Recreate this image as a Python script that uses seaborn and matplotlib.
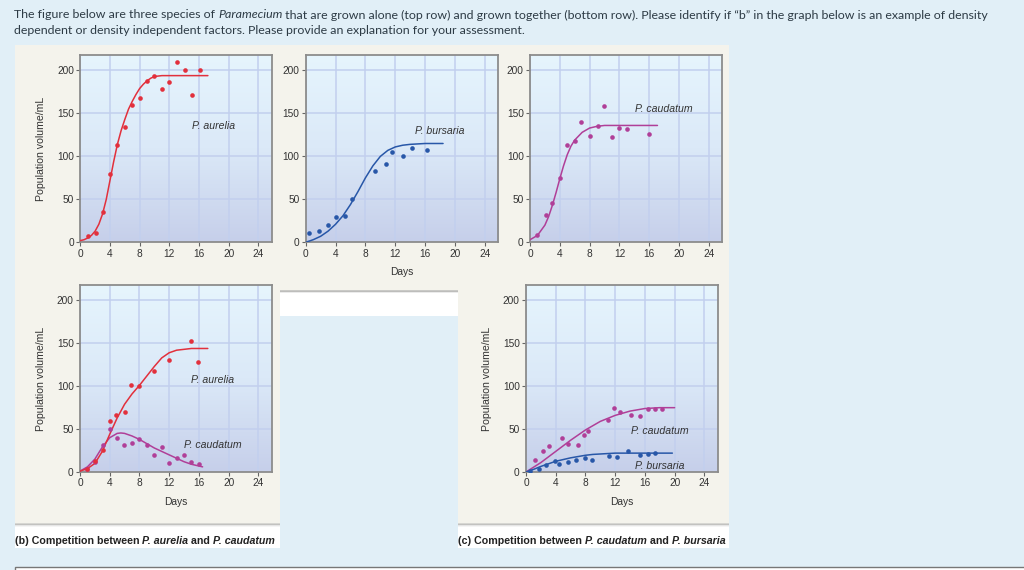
import numpy as np
import pandas as pd
import matplotlib
matplotlib.use("Agg")
import matplotlib.pyplot as plt
from matplotlib.patches import Rectangle
from matplotlib.colors import LinearSegmentedColormap
from matplotlib.font_manager import FontProperties
import seaborn as sns

sns.set_theme(style="white")
plt.rcParams['font.family'] = ['Liberation Sans', 'DejaVu Sans']

# ---- data ----
# (a) grown alone
aur_days = [1, 2.1, 3, 4, 5, 6, 7, 8, 9, 10, 11, 12, 13, 14.1, 15.1, 16.1]
aur_vals = [7, 11, 35, 79, 113, 134, 160, 168, 188, 194, 179, 186, 210, 200, 171, 200]
aur_fit_d = [0, 0.5, 1, 1.5, 2, 2.5, 3, 3.5, 4, 4.5, 5, 5.5, 6, 6.5, 7, 7.5, 8, 8.5, 9, 9.5, 10, 11, 17.2]
aur_fit_v = [2, 3, 5, 8, 13, 21, 33, 50, 72, 94, 114, 130, 143, 155, 164, 172, 179, 184, 188, 191, 193, 194, 194]

bur_days = [0.5, 1.8, 3, 4, 5.3, 6.2, 9.3, 10.7, 11.5, 13, 14.2, 16.2]
bur_vals = [11, 13, 20, 29, 31, 50, 83, 91, 105, 100, 110, 107]
bur_fit_d = [0, 1, 2, 3, 4, 5, 6, 7, 8, 9, 10, 11, 12, 13, 14, 16, 18.4]
bur_fit_v = [0, 3, 7, 13, 21, 31, 44, 59, 75, 89, 100, 107, 111, 113, 114, 115, 115]

cau_days = [1, 2.1, 3, 4, 5, 6, 6.9, 8, 9.1, 9.9, 11, 12, 13, 16]
cau_vals = [8.5, 32, 46, 75, 113, 118, 140, 124, 135, 159, 122, 133, 132, 126]
cau_fit_d = [0, 1, 2, 2.5, 3, 3.5, 4, 4.5, 5, 5.5, 6, 7, 8, 9, 10, 17.1]
cau_fit_v = [3, 8, 20, 30, 43, 58, 74, 89, 102, 112, 119, 128, 133, 135, 136, 136]

# (b) P. aurelia with P. caudatum
b_aur_days = [0.9, 2, 3.1, 4, 4.9, 6, 6.9, 8, 10, 12, 15, 15.9]
b_aur_vals = [3, 13, 26, 60, 67, 70, 102, 100, 118, 130, 153, 128]
b_aur_fit_d = [0, 1, 2, 3, 4, 5, 6, 7, 8, 9, 10, 11, 12, 13, 14, 15, 17.2]
b_aur_fit_v = [1, 4, 10, 24, 44, 63, 79, 91, 101, 112, 123, 133, 139, 142, 143, 144, 144]

b_cau_days = [1, 2, 3.1, 4, 5, 5.9, 7, 7.9, 9, 10, 11, 12, 13, 14, 15, 16]
b_cau_vals = [4, 12, 32, 50, 40, 31, 34, 38, 31, 20, 29, 11, 16, 20, 12, 9]
b_cau_fit_d = [0, 1, 2, 3, 4, 5, 5.5, 6, 7, 8, 9, 10, 11, 12, 13, 14, 15, 16.5]
b_cau_fit_v = [1, 6, 15, 29, 40, 45, 45.5, 45, 42, 38, 33, 28, 24, 20, 16, 12, 9, 6]

# (c) P. caudatum with P. bursaria
c_cau_days = [1.2, 2.3, 3.1, 4.8, 5.7, 7, 7.8, 8.3, 11, 11.8, 12.7, 14.1, 15.4, 16.4, 17.3, 18.3]
c_cau_vals = [14, 24, 30, 40, 33, 32, 43, 48, 61, 75, 70, 66, 65, 73, 74, 74]
c_cau_fit_d = [0, 2, 4, 6, 8, 10, 12, 14, 16, 18, 20]
c_cau_fit_v = [0, 11, 24, 37, 49, 59, 66, 71, 74, 75, 75]

c_bur_days = [0.6, 1.7, 2.7, 3.9, 4.5, 5.6, 6.7, 7.9, 8.9, 11.2, 12.3, 13.7, 15.3, 16.4, 17.4]
c_bur_vals = [1, 4, 8, 13, 9, 12, 14, 16, 14, 19, 18, 25, 20, 21, 22]
c_bur_fit_d = [0, 1, 2, 3, 4, 5, 6, 7, 8, 9, 10, 12, 14, 19.7]
c_bur_fit_v = [0, 3, 6.5, 9.5, 12.5, 14.5, 16.5, 18, 19.5, 20.5, 21, 22, 22, 22]

x_ticks = [0, 4, 8, 12, 16, 20, 24]
y_ticks = [0, 50, 100, 150, 200]

RED = '#e2303c'
PURPLE = '#b03f98'
BLUE = '#2857a8'
PAGE = '#e1eff7'
BEIGE = '#f4f3ec'
TXT = '#333333'

W, H = 1024, 570
fig = plt.figure(figsize=(W / 100, H / 100), dpi=100)
fig.patch.set_facecolor(PAGE)


def rect(x0, y0, x1, y1, fc, ec='none', lw=0):
    fig.add_artist(Rectangle((x0 / W, 1 - y1 / H), (x1 - x0) / W, (y1 - y0) / H,
                             transform=fig.transFigure, facecolor=fc,
                             edgecolor=ec, linewidth=lw, zorder=0))


# page pieces: beige image areas, shadows, white caption strips
rect(15, 45, 729, 290, BEIGE)
rect(15, 290, 280, 523, BEIGE)
rect(458, 290, 729, 523, BEIGE)
rect(280, 293, 458, 316, 'white')
for i, c in enumerate(['#c9c9c6', '#bdbdbb', '#d4d4d4', '#ebebeb']):
    rect(280, 290 + i * 0.8, 458, 290.8 + i * 0.8, c)
for x0, x1 in [(15, 280), (458, 729)]:
    rect(x0, 527, x1, 548, 'white')
    for i, c in enumerate(['#d6d6d2', '#c2c2c0', '#cfcfcf', '#e6e6e6', '#f5f5f5']):
        rect(x0, 523 + i * 0.8, x1, 523.8 + i * 0.8, c)
rect(15, 567, 1030, 580, 'white', ec='#777777', lw=1.0)

grad_cmap = LinearSegmentedColormap.from_list('bg', ['#c6cfea', '#dbe9f8', '#e6f5fd'])
grad = np.linspace(0, 1, 256).reshape(-1, 1)
XMAX, YMAX = 25.8, 218


def panel(x0, y0, x1, y1, ylabel=False, xlabel=False):
    ax = fig.add_axes([x0 / W, 1 - y1 / H, (x1 - x0) / W, (y1 - y0) / H])
    ax.imshow(grad, extent=[0, XMAX, 0, YMAX], aspect='auto', cmap=grad_cmap,
              origin='lower', zorder=-1)
    ax.set_xlim(0, XMAX)
    ax.set_ylim(0, YMAX)
    ax.set_xticks(x_ticks)
    ax.set_yticks(y_ticks)
    ax.grid(True, color='#c2cfee', lw=1.1)
    ax.set_axisbelow(True)
    for s in ax.spines.values():
        s.set_color('#8c8c8c')
        s.set_linewidth(1.3)
    ax.tick_params(axis='both', which='both', direction='out', length=3, width=0.8,
                   color='#666666', labelsize=7.3, labelcolor=TXT, pad=1.5,
                   left=True, bottom=True)
    if ylabel:
        ax.set_ylabel('Population volume/mL', fontsize=7.6, color=TXT, labelpad=8)
    if xlabel:
        ax.set_xlabel('Days', fontsize=7.4, color=TXT, labelpad=6)
    return ax


def series(ax, d, v, fd, fv, color):
    sns.lineplot(x=fd, y=fv, ax=ax, color=color, lw=1.1, estimator=None, sort=False, zorder=3)
    sns.scatterplot(x=d, y=v, ax=ax, color=color, s=11, linewidth=0, zorder=4)


def label(ax, x, y, s):
    ax.text(x, y, s, fontsize=7.6, style='italic', color=TXT, ha='center', va='center', zorder=5)


ax1 = panel(80.3, 55, 271.7, 242.3, ylabel=True)
series(ax1, aur_days, aur_vals, aur_fit_d, aur_fit_v, RED)
label(ax1, 18, 135, 'P. aurelia')

ax2 = panel(305.7, 55, 498.3, 242.3, xlabel=True)
series(ax2, bur_days, bur_vals, bur_fit_d, bur_fit_v, BLUE)
label(ax2, 18, 130, 'P. bursaria')

ax3 = panel(530, 55, 722.3, 242.3)
series(ax3, cau_days, cau_vals, cau_fit_d, cau_fit_v, PURPLE)
label(ax3, 18, 155, 'P. caudatum')

ax4 = panel(80, 285, 271.7, 472, ylabel=True, xlabel=True)
series(ax4, b_cau_days, b_cau_vals, b_cau_fit_d, b_cau_fit_v, PURPLE)
series(ax4, b_aur_days, b_aur_vals, b_aur_fit_d, b_aur_fit_v, RED)
label(ax4, 17.9, 107, 'P. aurelia')
label(ax4, 17.9, 31, 'P. caudatum')

ax5 = panel(526, 285, 717.7, 472, ylabel=True, xlabel=True)
series(ax5, c_cau_days, c_cau_vals, c_cau_fit_d, c_cau_fit_v, PURPLE)
series(ax5, c_bur_days, c_bur_vals, c_bur_fit_d, c_bur_fit_v, BLUE)
label(ax5, 18, 48, 'P. caudatum')
label(ax5, 18, 7, 'P. bursaria')

# ---- mixed-style text lines ----
renderer = fig.canvas.get_renderer()


def width(s, size, family, style, weight):
    fp = FontProperties(family=family, size=size, style=style, weight=weight)
    w1 = renderer.get_text_width_height_descent(s + '.', fp, ismath=False)[0]
    w2 = renderer.get_text_width_height_descent('.', fp, ismath=False)[0]
    return w1 - w2


def rich(x, y, pieces, size, family, color):
    for s, style, weight in pieces:
        fig.text(x / W, 1 - y / H, s, fontsize=size, family=family, style=style,
                 weight=weight, color=color, va='center', ha='left')
        x += width(s, size, family, style, weight)


TOP_FONT = ['Lato', 'DejaVu Sans']
rich(14, 15, [('The figure below are three species of ', 'normal', 'normal'),
              ('Paramecium', 'italic', 'normal'),
              (' that are grown alone (top row) and grown together (bottom row). Please identify if \u201cb\u201d '
               'in the graph below is an example of density', 'normal', 'normal')],
     8.93, TOP_FONT, '#2d3b45')
rich(14, 31, [('dependent or density independent factors. Please provide an explanation for your assessment.',
               'normal', 'normal')], 8.93, TOP_FONT, '#2d3b45')

CAP_FONT = ['Liberation Sans', 'DejaVu Sans']
rich(15, 541, [('(b) Competition between ', 'normal', 'bold'),
               ('P. aurelia', 'italic', 'bold'),
               (' and ', 'normal', 'bold'),
               ('P. caudatum', 'italic', 'bold')], 7.7, CAP_FONT, '#222222')
rich(458, 541, [('(c) Competition between ', 'normal', 'bold'),
                ('P. caudatum', 'italic', 'bold'),
                (' and ', 'normal', 'bold'),
                ('P. bursaria', 'italic', 'bold')], 7.7, CAP_FONT, '#222222')

fig.savefig('out.png', dpi=100, facecolor=fig.get_facecolor())
